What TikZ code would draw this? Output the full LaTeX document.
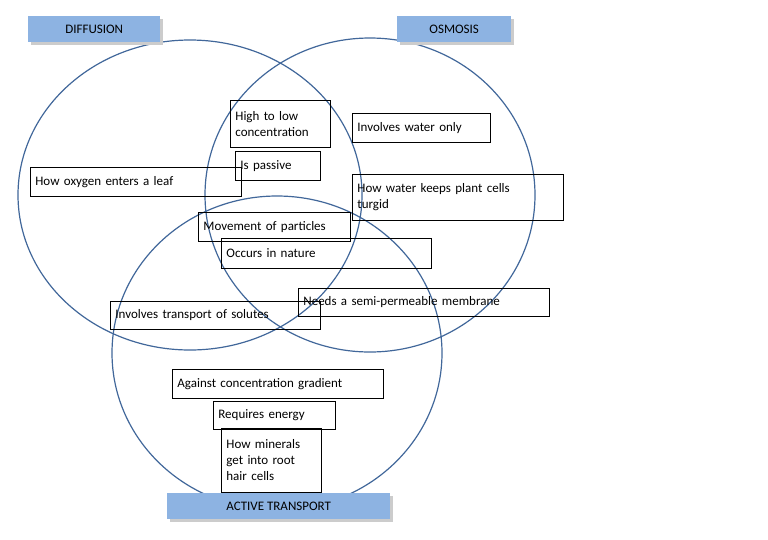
\documentclass[tikz,border=0pt]{standalone}
\usepackage{fontspec}
\setmainfont{Carlito}
\definecolor{ringblue}{HTML}{41679A}
\definecolor{tagblue}{HTML}{8DB3E2}
\begin{document}
\begin{tikzpicture}[x=1pt,y=-1pt,
  ring/.style={draw=ringblue, line width=1.2pt},
  tag/.style={fill=tagblue, anchor=north west, inner xsep=6pt, font=\fontsize{13}{15}\selectfont, align=left},
  fact/.style={draw, line width=0.8pt, anchor=north west, inner xsep=5pt, inner ysep=0pt, align=left, font=\fontsize{13}{16}\selectfont}]
\useasboundingbox (0,0) rectangle (768,539);
% circles
\draw[ring] (190,195) ellipse [x radius=172, y radius=155];
\draw[ring] (370,195) ellipse [x radius=165, y radius=157];
\draw[ring] (277,353) ellipse [x radius=165, y radius=157];
% titles
\fill[gray!40] (31,19) rectangle (163,45);
\node[tag, minimum width=132pt, minimum height=26pt] (diff) at (28,16) {DIFFUSION};
\fill[gray!40] (400,19) rectangle (514,45);
\node[tag, minimum width=114pt, minimum height=26pt] (osm) at (397,16) {OSMOSIS};
\fill[gray!40] (170,496) rectangle (393,522);
\node[tag, minimum width=223pt, minimum height=26pt] (act) at (167,493) {ACTIVE TRANSPORT};
% facts
\node[fact, text width=90pt, minimum height=47pt] (hilo) at (230,100) {High to low\\concentration};
\node[fact, text width=128pt, minimum height=29pt] (water) at (352,113) {Involves water only};
\node[fact, text width=75pt, minimum height=29pt] (pass) at (235,151) {Is passive};
\node[fact, text width=201pt, minimum height=29pt] (oxy) at (30,167) {How oxygen enters a leaf};
\node[fact, text width=201pt, minimum height=46pt] (turg) at (352,174) {How water keeps plant cells\\turgid};
\node[fact, text width=142pt, minimum height=29pt] (move) at (198,212) {Movement of particles};
\node[fact, text width=200pt, minimum height=30pt] (nat) at (221,238) {Occurs in nature};
\node[fact, text width=241pt, minimum height=28pt] (memb) at (298,288) {Needs a semi-permeable membrane};
\node[fact, text width=200pt, minimum height=28pt] (sol) at (110,301) {Involves transport of solutes};
\node[fact, text width=201pt, minimum height=29pt] (grad) at (172,369) {Against concentration gradient};
\node[fact, text width=112pt, minimum height=28pt] (ener) at (213,401) {Requires energy};
\node[fact, text width=90pt, minimum height=64pt] (root) at (221,428) {How minerals\\get into root\\hair cells};
\end{tikzpicture}
\end{document}
